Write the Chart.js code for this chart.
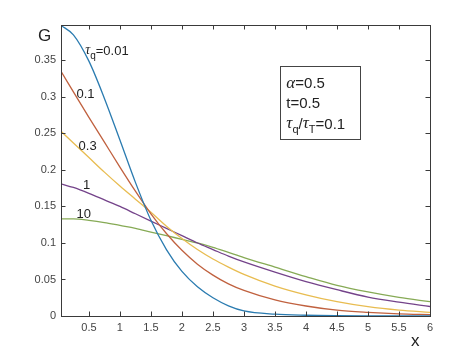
<!DOCTYPE html>
<html>
<head>
<meta charset="utf-8">
<script src="https://cdn.jsdelivr.net/npm/chart.js@4/dist/chart.umd.min.js"></script>
<style>
  html, body { margin: 0; padding: 0; background: #fff; }
  #wrap { width: 474px; height: 355px; }
</style>
</head>
<body>
<div id="wrap"><canvas id="gChart" width="474" height="355"></canvas></div>
<script>
// ==============================
// DATA
// ==============================
const xs = [0.05, 0.25, 0.5, 0.75, 1.0, 1.25, 1.5, 1.75, 2.0, 2.25, 2.5, 2.75, 3.0, 3.5, 4.0, 4.5, 5.0, 5.5, 6.0];

const tau001 = [0.398, 0.385, 0.349, 0.298, 0.241, 0.183, 0.131, 0.091, 0.061, 0.040, 0.025, 0.014, 0.007, 0.0025, 0.001, 0.0004, 0.0002, 0.0001, 0.0001];
const tau01  = [0.335, 0.307, 0.272, 0.238, 0.204, 0.171, 0.140, 0.113, 0.090, 0.071, 0.056, 0.044, 0.035, 0.022, 0.0137, 0.008, 0.005, 0.003, 0.002];
const tau03  = [0.253, 0.237, 0.217, 0.197, 0.178, 0.160, 0.142, 0.123, 0.106, 0.091, 0.078, 0.067, 0.057, 0.041, 0.029, 0.0196, 0.0127, 0.008, 0.005];
const tau1   = [0.181, 0.176, 0.168, 0.159, 0.150, 0.140, 0.130, 0.120, 0.110, 0.100, 0.091, 0.082, 0.074, 0.060, 0.047, 0.036, 0.026, 0.019, 0.013];
const tau10  = [0.133, 0.133, 0.131, 0.128, 0.124, 0.120, 0.115, 0.110, 0.105, 0.100, 0.094, 0.087, 0.080, 0.067, 0.054, 0.042, 0.033, 0.0255, 0.0196];

const xTicks = [0.5, 1, 1.5, 2, 2.5, 3, 3.5, 4, 4.5, 5, 5.5, 6];
const yTicks = [0, 0.05, 0.1, 0.15, 0.2, 0.25, 0.3, 0.35];

const seriesColors = ["#2a7bb0", "#c0613f", "#e8bc50", "#74438a", "#86aa55"];
const allSeries = [tau001, tau01, tau03, tau1, tau10];

// curve labels, placed in data units
const curveLabels = [
  { x: 0.30, y: 0.299, text: "0.1" },
  { x: 0.334, y: 0.227, text: "0.3" },
  { x: 0.406, y: 0.1735, text: "1" },
  { x: 0.30, y: 0.134, text: "10" }
];

const AXIS = "#3a3a3a";
const SANS = "'Liberation Sans', Arial, sans-serif";
const SERIF = "'Liberation Serif', 'DejaVu Serif', serif";

// ==============================
// PLUGIN: box, inside ticks, text
// ==============================
const matlabAxes = {
  id: "matlabAxes",
  afterDraw(chart) {
    const ctx = chart.ctx;
    const a = chart.chartArea;
    const xs_ = chart.scales.x, ys_ = chart.scales.y;
    ctx.save();
    ctx.strokeStyle = AXIS;
    ctx.lineWidth = 1;
    ctx.strokeRect(Math.round(a.left) + 0.5, Math.round(a.top) + 0.5,
                   Math.round(a.right - a.left), Math.round(a.bottom - a.top));

    // inside tick marks on all four sides
    const tl = 4.5;
    ctx.beginPath();
    xTicks.forEach(v => {
      const px = Math.round(xs_.getPixelForValue(v)) + 0.5;
      ctx.moveTo(px, a.bottom); ctx.lineTo(px, a.bottom - tl);
      ctx.moveTo(px, a.top); ctx.lineTo(px, a.top + tl);
    });
    yTicks.forEach(v => {
      const py = Math.round(ys_.getPixelForValue(v)) + 0.5;
      ctx.moveTo(a.left, py); ctx.lineTo(a.left + tl, py);
      ctx.moveTo(a.right, py); ctx.lineTo(a.right - tl, py);
    });
    ctx.stroke();

    // axis labels
    ctx.fillStyle = "#222";
    ctx.textBaseline = "alphabetic";
    ctx.font = "17px " + SANS;
    ctx.fillText("G", a.left - 23, a.top + 16);
    ctx.fillText("x", a.right - 19, a.bottom + 30);

    // curve labels
    ctx.font = "13px " + SANS;
    curveLabels.forEach(l => {
      ctx.fillText(l.text, xs_.getPixelForValue(l.x), ys_.getPixelForValue(l.y));
    });

    // tau_q = 0.01
    let px = xs_.getPixelForValue(0.44), py = ys_.getPixelForValue(0.358);
    ctx.font = "italic 14px " + SERIF;
    ctx.fillText("\u03C4", px, py - 1);
    px += ctx.measureText("\u03C4").width;
    ctx.font = "10px " + SANS;
    ctx.fillText("q", px, py + 4);
    px += ctx.measureText("q").width;
    ctx.font = "13px " + SANS;
    ctx.fillText("=0.01", px, py);

    // parameter box
    const bx0 = xs_.getPixelForValue(3.587), bx1 = xs_.getPixelForValue(4.877);
    const by0 = ys_.getPixelForValue(0.343), by1 = ys_.getPixelForValue(0.2436);
    ctx.strokeStyle = "#444";
    ctx.strokeRect(Math.round(bx0) + 0.5, Math.round(by0) + 0.5, Math.round(bx1 - bx0), Math.round(by1 - by0));

    const tx = bx0 + 6;
    // alpha line
    ctx.font = "italic 17px " + SERIF;
    ctx.fillText("\u03B1", tx, by0 + 22);
    let w = ctx.measureText("\u03B1").width;
    ctx.font = "15px " + SANS;
    ctx.fillText("=0.5", tx + w, by0 + 22);
    // t line
    ctx.fillText("t=0.5", tx, by0 + 42);
    // tau ratio line
    let cx = tx;
    const base = by0 + 63;
    ctx.font = "italic 17px " + SERIF;
    ctx.fillText("\u03C4", cx, base - 1); cx += ctx.measureText("\u03C4").width;
    ctx.font = "11px " + SANS;
    ctx.fillText("q", cx, base + 4); cx += ctx.measureText("q").width;
    ctx.font = "15px " + SANS;
    ctx.fillText("/", cx, base); cx += ctx.measureText("/").width;
    ctx.font = "italic 17px " + SERIF;
    ctx.fillText("\u03C4", cx, base - 1); cx += ctx.measureText("\u03C4").width;
    ctx.font = "11px " + SANS;
    ctx.fillText("T", cx, base + 4); cx += ctx.measureText("T").width;
    ctx.font = "15px " + SANS;
    ctx.fillText("=0.1", cx, base);
    ctx.restore();
  }
};

// ==============================
// CHART
// ==============================
new Chart(document.getElementById("gChart"), {
  type: "line",
  data: {
    datasets: allSeries.map((s, i) => ({
      data: xs.map((x, k) => ({ x: x, y: s[k] })),
      borderColor: seriesColors[i],
      borderWidth: 1.3,
      pointRadius: 0,
      cubicInterpolationMode: "monotone",
      fill: false
    }))
  },
  options: {
    responsive: false,
    animation: false,
    events: [],
    layout: { padding: { left: 0, right: 44, top: 25, bottom: 0 } },
    plugins: { legend: { display: false }, tooltip: { enabled: false } },
    scales: {
      x: {
        type: "linear",
        min: 0.05,
        max: 6,
        grid: { display: false, drawTicks: false },
        border: { display: false },
        afterBuildTicks: s => { s.ticks = xTicks.map(v => ({ value: v })); },
        afterFit: s => { s.height = 39; },
        ticks: {
          padding: 5,
          color: "#444",
          font: { family: SANS, size: 11 },
          maxRotation: 0,
          autoSkip: false,
          callback: v => String(v)
        }
      },
      y: {
        min: 0,
        max: 0.3985,
        grid: { display: false, drawTicks: false },
        border: { display: false },
        afterBuildTicks: s => { s.ticks = yTicks.map(v => ({ value: v })); },
        afterFit: s => { s.width = 61; },
        ticks: {
          padding: 5,
          color: "#444",
          font: { family: SANS, size: 11 },
          autoSkip: false,
          callback: v => String(v)
        }
      }
    }
  },
  plugins: [matlabAxes]
});
</script>
</body>
</html>
